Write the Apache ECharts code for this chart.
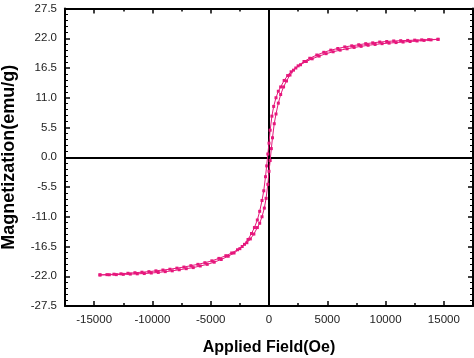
<!DOCTYPE html>
<html>
<head>
<meta charset="utf-8">
<script src="https://cdn.jsdelivr.net/npm/echarts@6/dist/echarts.min.js"></script>
<style>html,body{margin:0;padding:0;background:#fff}#c{width:474px;height:358px}</style>
</head>
<body>
<div id="c"></div>
<script>
// Descending branch (from +H to -H)
var downH = [14500,13900,13300,12700,12100,11500,10900,10300,9700,9100,8500,7900,7300,6700,6100,5500,4900,4300,3700,3200,2700,2300,1900,1600,1300,1000,800,600,400,250,100,0,-100,-200,-300,-450,-600,-800,-1000,-1250,-1500,-1800,-2100,-2500,-3000,-3500,-4100,-4700,-5300,-5900,-6500,-7100,-7700,-8300,-8900,-9500,-10100,-10700,-11300,-11900,-12500,-13100,-13700,-14500];
var downM = [21.8,21.7,21.6,21.5,21.4,21.3,21.2,21.1,21.0,20.85,20.7,20.5,20.3,20.05,19.8,19.5,19.15,18.7,18.2,17.7,17.1,16.5,15.8,15.1,14.2,13.0,12.2,11.0,9.4,7.6,5.0,2.6,0.6,-1.6,-3.6,-6.2,-8.0,-10.0,-11.6,-13.0,-14.1,-15.2,-16.1,-16.9,-17.7,-18.3,-18.9,-19.4,-19.8,-20.1,-20.4,-20.6,-20.8,-21.0,-21.15,-21.3,-21.4,-21.5,-21.55,-21.6,-21.65,-21.7,-21.72,-21.75];
// Ascending branch (from -H to +H)
var upH = [-14500,-13900,-13300,-12700,-12100,-11500,-10900,-10300,-9700,-9100,-8500,-7900,-7300,-6700,-6100,-5500,-4900,-4300,-3700,-3200,-2700,-2300,-1900,-1600,-1300,-1000,-800,-600,-400,-250,-100,0,100,200,300,450,600,800,1000,1250,1500,1800,2100,2500,3000,3500,4100,4700,5300,5900,6500,7100,7700,8300,8900,9500,10100,10700,11300,11900,12500,13100,13700,14500];
var upM = [-21.75,-21.7,-21.62,-21.55,-21.45,-21.35,-21.25,-21.15,-21.0,-20.85,-20.7,-20.5,-20.3,-20.05,-19.8,-19.5,-19.15,-18.7,-18.2,-17.7,-17.1,-16.5,-15.8,-15.1,-14.2,-13.0,-12.2,-11.0,-9.4,-7.6,-5.0,-2.6,-0.6,1.6,3.6,6.2,8.0,10.0,11.6,13.0,14.1,15.2,16.1,16.9,17.7,18.3,18.9,19.4,19.8,20.1,20.4,20.6,20.8,21.0,21.15,21.3,21.4,21.5,21.55,21.6,21.65,21.7,21.75,21.8];
var xMajorTicks = [-15000,-10000,-5000,0,5000,10000,15000];
var xMinorTicks = [-17500,-12500,-7500,-2500,2500,7500,12500,17500];
var yTickStep = 5.5;

function pairs(h, m){ var out=[]; for(var i=0;i<h.length;i++) out.push([h[i], m[i]]); return out; }

var FONT = '"Liberation Sans", Arial, sans-serif';
var black = '#000';
function xAx(pos, ticks, len, showLine, showLabel, withName){
  var a = {
    type:'value', position:pos, min:-17500, max:17500, interval:2500,
    axisLine:{show:showLine, onZero:false, lineStyle:{color:black, width:2}},
    axisTick:{show:true, inside:true, length:len, customValues:ticks, lineStyle:{color:black, width:1.5}},
    axisLabel:{show:showLabel, customValues:xMajorTicks, fontSize:11.5, color:'#222', fontFamily:FONT, margin:8,
      formatter:function(v){ return String(v); }},
    splitLine:{show:false}
  };
  if(withName){
    a.name='Applied Field(Oe)'; a.nameLocation='middle'; a.nameGap=34;
    a.nameTextStyle={fontSize:16, fontWeight:'bold', color:black, fontFamily:FONT};
  }
  return a;
}
function yAx(pos, showLabel, withName){
  var a = {
    type:'value', position:pos, min:-27.5, max:27.5, interval:yTickStep,
    axisLine:{show:true, onZero:false, lineStyle:{color:black, width:2}},
    axisTick:{show:true, inside:true, length:5, lineStyle:{color:black, width:1.5}},
    minorTick:{show:true, splitNumber:5, length:3, lineStyle:{color:black, width:1}},
    axisLabel:{show:showLabel, fontSize:11.5, color:'#222', fontFamily:FONT, margin:8,
      formatter:function(v){ return v.toFixed(1); }},
    splitLine:{show:false}, minorSplitLine:{show:false}
  };
  if(withName){
    a.name='Magnetization(emu/g)'; a.nameLocation='middle'; a.nameGap=47;
    a.nameTextStyle={fontSize:18, fontWeight:'bold', color:black, fontFamily:FONT};
  }
  return a;
}

var chart = echarts.init(document.getElementById('c'), null, {renderer:'canvas'});
var pink = '#E6177C';
chart.setOption({
  animation:false,
  backgroundColor:'#fff',
  grid:{left:65, right:1, top:8.5, bottom:52, containLabel:false, outerBoundsMode:'none'},
  xAxis:[
    xAx('bottom', xMajorTicks, 5, true, true, true),
    xAx('bottom', xMinorTicks, 3, false, false, false),
    xAx('top', xMajorTicks, 5, true, false, false),
    xAx('top', xMinorTicks, 3, false, false, false)
  ],
  yAxis:[ yAx('left', true, true), yAx('right', false, false) ],
  series:[
    {type:'line', xAxisIndex:0, yAxisIndex:0, data:pairs(downH, downM), symbol:'rect', symbolSize:3,
     itemStyle:{color:pink}, lineStyle:{color:pink, width:1}, z:3,
     markLine:{silent:true, symbol:'none', label:{show:false}, z:1,
       lineStyle:{color:black, width:2, type:'solid'}, data:[{xAxis:0},{yAxis:0}]}},
    {type:'line', xAxisIndex:0, yAxisIndex:0, data:pairs(upH, upM), symbol:'rect', symbolSize:3,
     itemStyle:{color:pink}, lineStyle:{color:pink, width:1}, z:3}
  ]
});
</script>
</body>
</html>
